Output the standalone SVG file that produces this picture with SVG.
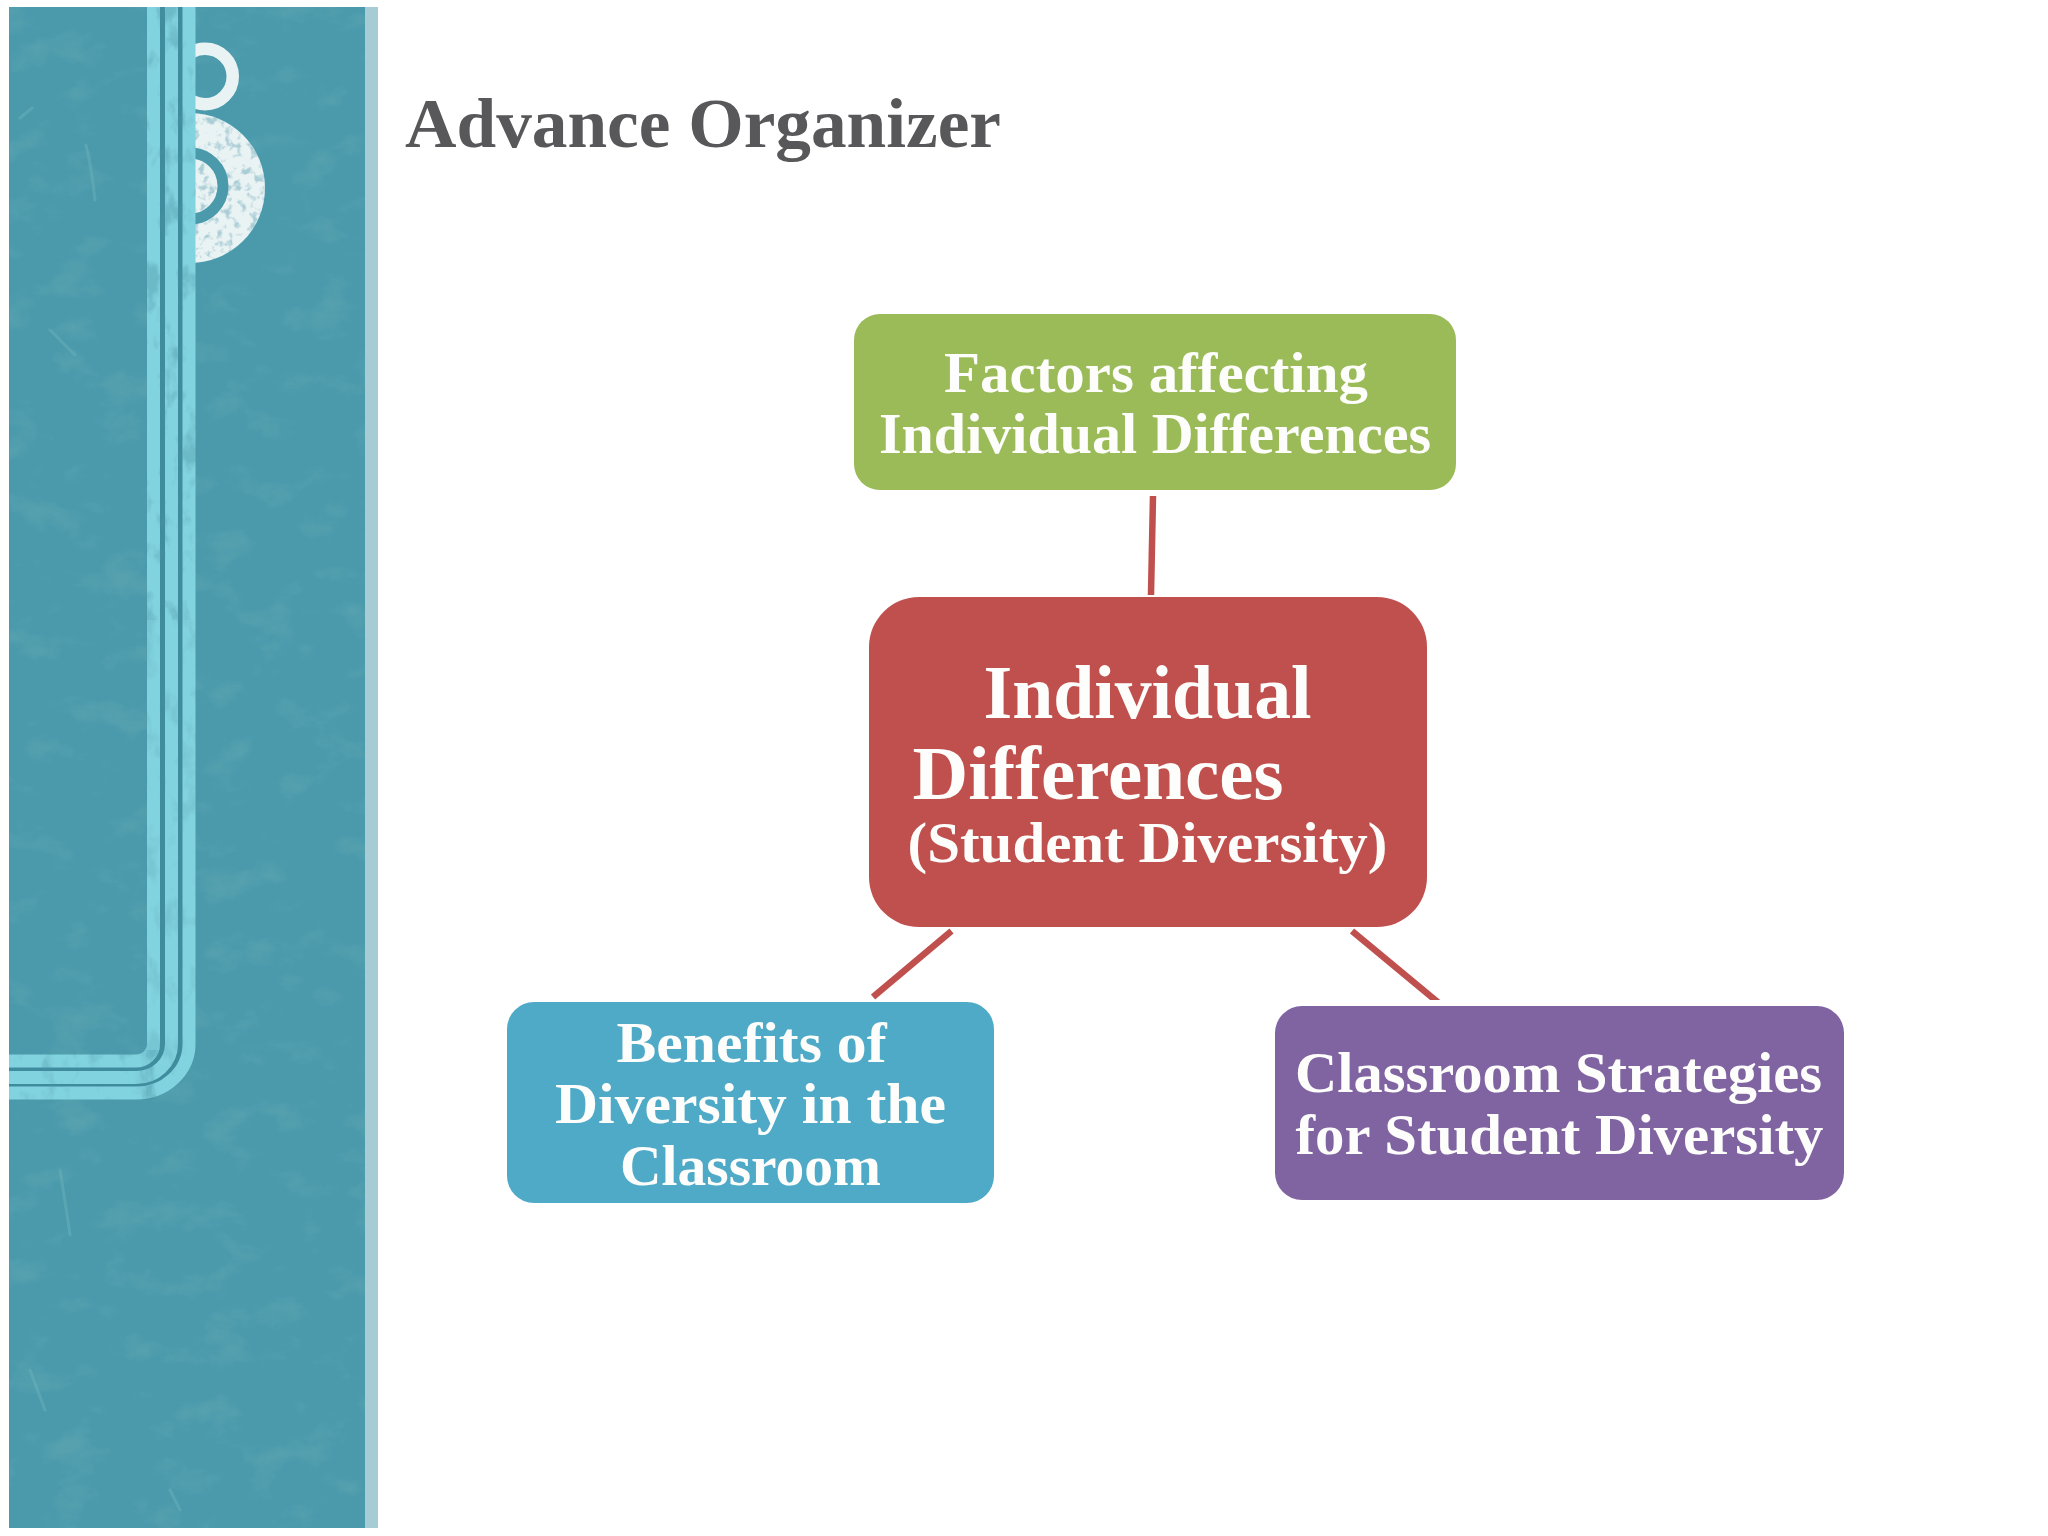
<svg xmlns="http://www.w3.org/2000/svg" width="2048" height="1536" viewBox="0 0 2048 1536">
<defs>
<style>
text{font-family:"Liberation Serif","Times New Roman",serif;font-weight:bold;fill:#fdfdfb}
.title{fill:#58585a;font-size:70px}
.n{font-size:56px}
.big{font-size:76px}
.band{fill:none;stroke:#82d3e0;stroke-width:13}
.gap{fill:none;stroke:#3e8c9e;stroke-width:5}
.link{stroke:#c0504d;stroke-width:6.500;fill:none}
.scratch{fill:none;stroke:#6fb3bd;stroke-width:3;stroke-linecap:round;opacity:0.45}
</style>
<clipPath id="rightOf"><rect x="195" y="7" width="170" height="300"/></clipPath>
<clipPath id="disc"><circle cx="190" cy="188" r="75"/></clipPath>
<clipPath id="linkClip"><rect x="800" y="490" width="700" height="510"/></clipPath>
<filter id="scuff" x="0" y="0" width="1" height="1" color-interpolation-filters="sRGB">
<feTurbulence type="fractalNoise" baseFrequency="0.02 0.03" numOctaves="5" seed="11"/>
<feColorMatrix type="matrix" values="0 0 0 0 0.50 0 0 0 0 0.72 0 0 0 0 0.72 3 0 0 0 -1.6"/>
</filter>
<filter id="speck" x="0" y="0" width="1" height="1" color-interpolation-filters="sRGB">
<feTurbulence type="fractalNoise" baseFrequency="0.12" numOctaves="3" seed="4"/>
<feColorMatrix type="matrix" values="0 0 0 0 0.42 0 0 0 0 0.66 0 0 0 0 0.72 4.500 0 0 0 -2.35"/>
</filter>
<filter id="wear" x="0" y="0" width="1" height="1" color-interpolation-filters="sRGB">
<feTurbulence type="fractalNoise" baseFrequency="0.05 0.03" numOctaves="4" seed="23"/>
<feColorMatrix type="matrix" values="0 0 0 0 0.30 0 0 0 0 0.58 0 0 0 0 0.65 4 0 0 0 -2.1"/>
</filter>
</defs>
<rect width="2048" height="1536" fill="#ffffff"/>

<g id="backdrop">
<rect x="9" y="7" width="356" height="1521" fill="#4a9aac"/>
<rect x="365" y="7" width="13" height="1521" fill="#a6ccd5"/>
<rect x="9" y="7" width="356" height="1521" filter="url(#scuff)" opacity="0.25"/>
<path class="scratch" d="M20 118L32 108M86 145Q92 170 95 200M50 330L75 355M60 1170Q65 1200 70 1235M170 1490L180 1510M30 1370L45 1410"/>
<g clip-path="url(#rightOf)">
<circle cx="205" cy="76.500" r="27.750" fill="none" stroke="#eaf3f4" stroke-width="12.500"/>
<circle cx="190" cy="188" r="75" fill="#eaf3f4"/>
<g clip-path="url(#disc)"><rect x="195" y="112" width="72" height="152" filter="url(#speck)" opacity="0.5"/></g>
<circle cx="190" cy="186" r="33" fill="none" stroke="#4a9aac" stroke-width="11"/>
</g>
<path class="gap" d="M162.500 7V1044A26.500 25.500 0 0 1 136 1069.500H9"/>
<path class="gap" d="M180.500 7V1044A44.500 41.500 0 0 1 136 1085.500H9"/>
<path class="band" d="M153.500 7V1044A17.500 17 0 0 1 136 1061H9"/>
<path class="band" d="M171.500 7V1044A35.500 33.500 0 0 1 136 1077.500H9"/>
<path class="band" d="M189 7V1044A53 49 0 0 1 136 1093H9"/>
<rect x="146" y="7" width="50" height="613" filter="url(#wear)" opacity="0.4"/>
<rect x="146" y="620" width="50" height="480" filter="url(#wear)" opacity="0.2"/>
<rect x="9" y="1050" width="150" height="50" filter="url(#wear)" opacity="0.3"/>
</g>

<text class="title" x="405" y="147" textLength="596" lengthAdjust="spacingAndGlyphs">Advance Organizer</text>

<g id="connectors" clip-path="url(#linkClip)">
<line class="link" x1="1153" y1="496" x2="1151" y2="595"/>
<line class="link" x1="951.500" y1="931" x2="873" y2="997"/>
<line class="link" x1="1352" y1="931" x2="1440" y2="1004"/>
</g>

<g id="node-factors">
<rect x="854" y="314" width="602" height="176" rx="26" fill="#9bbb59"/>
<text class="n" x="944" y="392" textLength="424" lengthAdjust="spacingAndGlyphs">Factors affecting</text>
<text class="n" x="879" y="452.500" textLength="552" lengthAdjust="spacingAndGlyphs">Individual Differences</text>
</g>

<g id="node-center">
<rect x="869" y="597" width="558" height="330" rx="50" fill="#c0504d"/>
<text class="big" x="983.500" y="718" textLength="328" lengthAdjust="spacingAndGlyphs">Individual</text>
<text class="big" x="912.500" y="798.500" textLength="371" lengthAdjust="spacingAndGlyphs">Differences</text>
<text class="n" x="907.500" y="862" textLength="480" lengthAdjust="spacingAndGlyphs">(Student Diversity)</text>
</g>

<g id="node-benefits">
<rect x="507" y="1002" width="487" height="201" rx="27" fill="#4faac7"/>
<text class="n" x="616.500" y="1061.500" textLength="270" lengthAdjust="spacingAndGlyphs">Benefits of</text>
<text class="n" x="555" y="1123" textLength="391" lengthAdjust="spacingAndGlyphs">Diversity in the</text>
<text class="n" x="620" y="1185" textLength="261" lengthAdjust="spacingAndGlyphs">Classroom</text>
</g>

<g id="node-strategies">
<rect x="1275" y="1006" width="569" height="194" rx="27" fill="#8064a2"/>
<text class="n" x="1295" y="1092" textLength="527" lengthAdjust="spacingAndGlyphs">Classroom Strategies</text>
<text class="n" x="1295.500" y="1154" textLength="528" lengthAdjust="spacingAndGlyphs">for Student Diversity</text>
</g>
</svg>
